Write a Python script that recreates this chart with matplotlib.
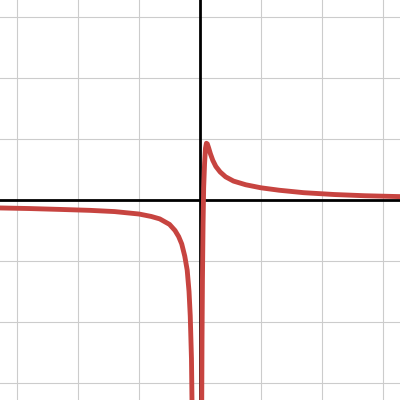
import matplotlib
matplotlib.use("Agg")
import matplotlib.pyplot as plt

left_x = [-3.3, -2.8, -2.28, -1.8, -1.4, -1.0, -0.8, -0.66, -0.5, -0.41, -0.35, -0.3, -0.25, -0.21, -0.18, -0.16, -0.14, -0.13]
left_y = [-0.13, -0.14, -0.155, -0.17, -0.19, -0.23, -0.27, -0.31, -0.4, -0.5, -0.6, -0.72, -0.92, -1.15, -1.5, -1.9, -2.6, -3.4]
right_x = [0.028, 0.033, 0.04, 0.05, 0.06, 0.075, 0.09, 0.105, 0.12, 0.14, 0.17, 0.21, 0.26, 0.33, 0.42, 0.55, 0.75, 1.0, 1.3, 1.7, 2.2, 2.7, 3.3]
right_y = [-3.4, -2.3, -1.3, -0.4, 0.2, 0.6, 0.85, 0.93, 0.92, 0.86, 0.76, 0.65, 0.55, 0.46, 0.38, 0.31, 0.25, 0.2, 0.16, 0.12, 0.09, 0.07, 0.055]
grid_ticks = [-3, -2, -1, 1, 2, 3]

fig = plt.figure(figsize=(4, 4), dpi=100)
ax = fig.add_axes([0, 0, 1, 1])
ax.set_xlim(-3.28, 3.28)
ax.set_ylim(-3.28, 3.28)
for t in grid_ticks:
    ax.axvline(t, color="#cccccc", lw=0.8, zorder=0)
    ax.axhline(t, color="#cccccc", lw=0.8, zorder=0)
ax.axvline(0, color="black", lw=2, zorder=1)
ax.axhline(0, color="black", lw=2, zorder=1)
ax.plot(left_x, left_y, color="#c74440", lw=3.5, solid_capstyle="round", solid_joinstyle="round", zorder=2)
ax.plot(right_x, right_y, color="#c74440", lw=3.5, solid_capstyle="round", solid_joinstyle="round", zorder=2)
ax.set_xticks([]); ax.set_yticks([])
for s in ax.spines.values():
    s.set_visible(False)
fig.savefig("out.png", dpi=100)
